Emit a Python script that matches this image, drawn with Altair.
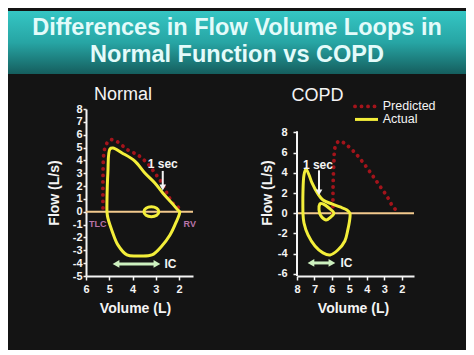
import altair as alt
import pandas as pd

FONT = "Liberation Sans"
WHITE = "#f4f4f4"
BG = "#141414"
YELLOW = "#f3ee3a"
RED = "#a3141b"
ZERO = "#f2c98d"
GREEN = "#cdf0bf"
PINK = "#b873a8"

TITLE_LINES = ["Differences in Flow Volume Loops in", "Normal Function vs COPD"]
LEGEND_LABELS = ["Predicted", "Actual"]

# panel titles: (text, volume, flow) placed above each plot
normal_title = ["Normal", 4.41, 8.70]
copd_title = ["COPD", 6.83, 11.1]

# ---- Normal panel ----
normal_vol_ticks = [6, 5, 4, 3, 2]
normal_flow_ticks = [-5, -4, -3, -2, -1, 0, 1, 2, 3, 4, 5, 6, 7, 8]
normal_pred_vol = [5.27, 5.27, 5.23, 5.14, 4.97, 4.71, 4.20, 3.77, 3.38, 3.04, 2.74, 2.48, 2.27, 2.05, 1.84]
normal_pred_flow = [0.30, 2.63, 4.58, 5.20, 5.59, 5.51, 4.81, 4.42, 3.80, 3.02, 2.24, 1.31, 0.68, 0.37, 0.06]
normal_act_vol = [5.10, 5.10, 5.06, 4.97, 4.84, 4.45, 3.90, 3.47, 3.04, 2.70, 2.31, 2.05, 1.97,
                  2.14, 2.39, 2.74, 3.17, 3.77, 4.24, 4.63, 4.88, 5.06, 5.10]
normal_act_flow = [0.00, 0.68, 3.02, 4.89, 4.96, 4.58, 3.95, 3.02, 2.24, 1.46, 0.68, 0.14, 0.00,
                   -0.87, -1.81, -2.66, -3.36, -3.44, -3.36, -2.58, -1.49, -0.48, 0.00]
normal_tidal_vol = [3.51, 3.42, 3.19, 2.96, 2.87, 2.96, 3.19, 3.42]
normal_tidal_flow = [0.00, 0.28, 0.39, 0.28, 0.00, -0.28, -0.39, -0.28]

# ---- COPD panel ----
copd_vol_ticks = [8, 7, 6, 5, 4, 3, 2]
copd_flow_ticks = [-6, -4, -2, 0, 2, 4, 6, 8]
copd_pred_vol = [5.94, 5.94, 5.89, 5.83, 5.71, 5.54, 5.09, 4.57, 4.11, 3.66, 3.26, 2.86, 2.57, 2.29]
copd_pred_flow = [0.03, 2.00, 4.97, 6.45, 6.95, 7.14, 6.65, 5.76, 4.77, 3.69, 2.70, 1.71, 0.82, 0.23]
copd_act_vol = [7.66, 7.66, 7.60, 7.49, 7.31, 7.14, 6.80, 6.51, 6.00, 5.54, 5.14, 4.97,
                4.97, 5.09, 5.26, 5.66, 6.11, 6.51, 6.97, 7.37, 7.60, 7.66]
copd_act_flow = [0.00, 2.00, 3.78, 4.38, 3.78, 2.99, 1.91, 1.31, 0.92, 0.62, 0.33, 0.00,
                 -0.46, -1.65, -2.74, -3.63, -4.12, -3.92, -3.23, -2.14, -0.96, 0.00]
copd_tidal_vol = [6.69, 6.74, 6.63, 6.34, 6.06, 5.89, 6.17, 6.51]
copd_tidal_flow = [0.92, 0.33, -0.27, -0.66, -0.37, 0.03, 0.52, 0.92]

# annotations: (volume, flow)
normal_sec_label = ["1 sec", 2.70, 3.72]
normal_sec_arrow = [2.70, 3.18, 1.89]          # v, flow top, flow tip
normal_ic_arrow = [4.71, 2.95, -4.06]          # v left, v right, flow
normal_ic_label = ["IC", 2.37, -4.06]
normal_ends = [["TLC", 5.49, -0.95], ["RV", 1.54, -0.95]]

copd_sec_label = ["1 sec", 6.80, 4.77]
copd_sec_arrow = [6.74, 4.24, 2.06]
copd_ic_arrow = [7.20, 6.00, -4.91]
copd_ic_label = ["IC", 5.17, -4.91]

legend_line_vol = [4.68, 3.36]
legend_flow = [10.55, 9.27]
legend_text_vol = 3.09


def line_df(vol, flow):
    return pd.DataFrame({"v": vol, "f": flow, "i": list(range(len(vol)))})


def text_df(item):
    return pd.DataFrame({"t": [item[0]], "v": [item[1]], "f": [item[2]]})


def build_panel(X, Y, title, pred, act, tidal, sec_label, sec_arrow, ic_arrow, ic_label, extra):
    one = pd.DataFrame({"z": [0]})
    zero = alt.Chart(one).mark_rule(color=ZERO, strokeWidth=2).encode(y=alt.datum(0))
    pred_l = alt.Chart(line_df(*pred)).mark_line(
        color=RED, strokeWidth=3.8, strokeDash=[0.1, 6.4], strokeCap="round",
        interpolate="catmull-rom").encode(x=X, y=Y, order="i:Q")
    act_l = alt.Chart(line_df(*act)).mark_line(
        color=YELLOW, strokeWidth=3, interpolate="catmull-rom").encode(x=X, y=Y, order="i:Q")
    tidal_l = alt.Chart(line_df(*tidal)).mark_line(
        color=YELLOW, strokeWidth=3, interpolate="cardinal-closed").encode(x=X, y=Y, order="i:Q")
    title_t = alt.Chart(text_df(title)).mark_text(
        font=FONT, fontSize=18, color=WHITE, baseline="alphabetic").encode(x=X, y=Y, text="t:N")
    sec_t = alt.Chart(text_df(sec_label)).mark_text(
        font=FONT, fontWeight="bold", fontSize=12, color=WHITE).encode(x=X, y=Y, text="t:N")
    sec_r = alt.Chart(pd.DataFrame({"v": [sec_arrow[0]], "f": [sec_arrow[1]], "f2": [sec_arrow[2]]})).mark_rule(
        color=WHITE, strokeWidth=2).encode(x=X, y=Y, y2="f2:Q")
    sec_h = alt.Chart(pd.DataFrame({"v": [sec_arrow[0]], "f": [sec_arrow[2]]})).mark_point(
        shape="triangle-down", filled=True, size=45, color=WHITE, opacity=1).encode(x=X, y=Y)
    ic_r = alt.Chart(pd.DataFrame({"v": [ic_arrow[0]], "v2": [ic_arrow[1]], "f": [ic_arrow[2]]})).mark_rule(
        color=GREEN, strokeWidth=3).encode(x=X, x2="v2:Q", y=Y)
    ic_h = alt.Chart(pd.DataFrame({"v": [ic_arrow[0], ic_arrow[1]], "f": [ic_arrow[2]] * 2,
                                   "s": ["triangle-left", "triangle-right"]})).mark_point(
        filled=True, size=60, color=GREEN, opacity=1).encode(
        x=X, y=Y, shape=alt.Shape("s:N", scale=None))
    ic_t = alt.Chart(text_df(ic_label)).mark_text(
        font=FONT, fontWeight="bold", fontSize=12, color=WHITE).encode(x=X, y=Y, text="t:N")
    return [zero, pred_l, act_l, tidal_l, title_t, sec_r, sec_h, sec_t, ic_r, ic_h, ic_t] + extra(X, Y)


common_axis = dict(grid=False, labelFlush=False, labelOverlap=False, labelExpr="'' + datum.value")

# Normal scales
XL = alt.X("v:Q", scale=alt.Scale(domain=[6, 1.4], nice=False, zero=False),
           axis=alt.Axis(values=normal_vol_ticks, tickCount=len(normal_vol_ticks), title="Volume (L)",
                         titleX=49, tickSize=4, labelPadding=3, titlePadding=7, **common_axis))
YL = alt.Y("f:Q", scale=alt.Scale(domain=[-5, 8], nice=False, zero=False),
           axis=alt.Axis(values=normal_flow_ticks, tickCount=len(normal_flow_ticks), title="Flow (L/s)",
                         tickSize=3, labelPadding=1, titlePadding=11, **common_axis))


def normal_extra(X, Y):
    df = pd.DataFrame({"t": [e[0] for e in normal_ends], "v": [e[1] for e in normal_ends],
                       "f": [e[2] for e in normal_ends]})
    return [alt.Chart(df).mark_text(font=FONT, fontWeight="bold", fontSize=9, color=PINK).encode(
        x=X, y=Y, text="t:N")]


# COPD scales
XR = alt.X("v:Q", scale=alt.Scale(domain=[8, 1.3], nice=False, zero=False),
           axis=alt.Axis(values=copd_vol_ticks, tickCount=len(copd_vol_ticks), title="Volume (L)",
                         titleX=56, tickSize=4, labelPadding=3, titlePadding=7, **common_axis))
YR = alt.Y("f:Q", scale=alt.Scale(domain=[-6.2, 10.3], nice=False, zero=False),
           axis=alt.Axis(values=copd_flow_ticks, tickCount=len(copd_flow_ticks), title="Flow (L/s)",
                         tickSize=4, domain=False, labelPadding=6, titlePadding=3, **common_axis))


def copd_extra(X, Y):
    one = pd.DataFrame({"z": [0]})
    yline = alt.Chart(one).mark_rule(color=WHITE, strokeWidth=2).encode(
        x=alt.datum(copd_vol_ticks[0]), y=alt.datum(-6.2), y2=alt.datum(8.1))
    leg_pred = alt.Chart(line_df(legend_line_vol, [legend_flow[0]] * 2)).mark_line(
        color=RED, strokeWidth=3.8, strokeDash=[0.1, 6.4], strokeCap="round").encode(x=X, y=Y, order="i:Q")
    leg_act = alt.Chart(line_df(legend_line_vol, [legend_flow[1]] * 2)).mark_line(
        color=YELLOW, strokeWidth=3).encode(x=X, y=Y, order="i:Q")
    leg_txt = alt.Chart(pd.DataFrame({"t": LEGEND_LABELS, "v": [legend_text_vol] * 2, "f": legend_flow})).mark_text(
        font=FONT, fontSize=12.5, color=WHITE, align="left", baseline="middle").encode(x=X, y=Y, text="t:N")
    return [yline, leg_pred, leg_act, leg_txt]


left = alt.layer(*build_panel(
    XL, YL, normal_title, (normal_pred_vol, normal_pred_flow), (normal_act_vol, normal_act_flow),
    (normal_tidal_vol, normal_tidal_flow), normal_sec_label, normal_sec_arrow,
    normal_ic_arrow, normal_ic_label, normal_extra)).properties(width=107, height=167)

right = alt.layer(*build_panel(
    XR, YR, copd_title, (copd_pred_vol, copd_pred_flow), (copd_act_vol, copd_act_flow),
    (copd_tidal_vol, copd_tidal_flow), copd_sec_label, copd_sec_arrow,
    copd_ic_arrow, copd_ic_label, copd_extra)).properties(width=117, height=167)

GRAD = alt.LinearGradient(
    gradient="linear",
    stops=[alt.GradientStop(offset=0, color="#35c6c4"),
           alt.GradientStop(offset=0.5, color="#27a5a4"),
           alt.GradientStop(offset=1, color="#155e5e")],
    x1=0, x2=0, y1=0, y2=1)

one_row = pd.DataFrame({"z": [0]})
# the header band spans the whole page width (0..1 of a 458 px range)
band_x = alt.Scale(domain=[0, 1], range=[0, 458])
band_y = alt.Scale(domain=[0, 1])

band_rect = alt.Chart(one_row).mark_rect(fill=GRAD).encode(
    x=alt.X(datum=0, scale=band_x, axis=None), x2=alt.X2(datum=1),
    y=alt.value(0), y2=alt.value("height"))
title_text = alt.Chart(one_row).mark_text(
    text=TITLE_LINES, lineHeight=26.5, fontSize=23.5, font=FONT, fontWeight="bold",
    color="#e4fbfa", align="center", baseline="middle", dy=-14.5
).encode(x=alt.X(datum=0.5, scale=band_x, axis=None), y=alt.Y(datum=0.5, scale=band_y, axis=None))

band_cell = alt.layer(band_rect, title_text).properties(width=78, height=63)


def spacer(w, h):
    return alt.Chart(one_row).mark_point(opacity=0).properties(width=w, height=h)


chart = alt.concat(
    band_cell, spacer(107, 1), spacer(104, 1), spacer(117, 1),
    spacer(78, 1), left, spacer(104, 241), right,
    columns=4, spacing={"row": 35, "column": 0}, bounds="flush",
).properties(background=BG, padding=0).configure_view(stroke=None).configure_axis(
    domainColor=WHITE, domainWidth=2, tickColor=WHITE, tickWidth=1.5,
    labelColor=WHITE, labelFont=FONT, labelFontSize=11, labelFontWeight="bold",
    titleColor=WHITE, titleFont=FONT, titleFontSize=14, titleFontWeight="bold",
)

chart.save("out.html", embed_options={"renderer": "svg", "actions": False})
